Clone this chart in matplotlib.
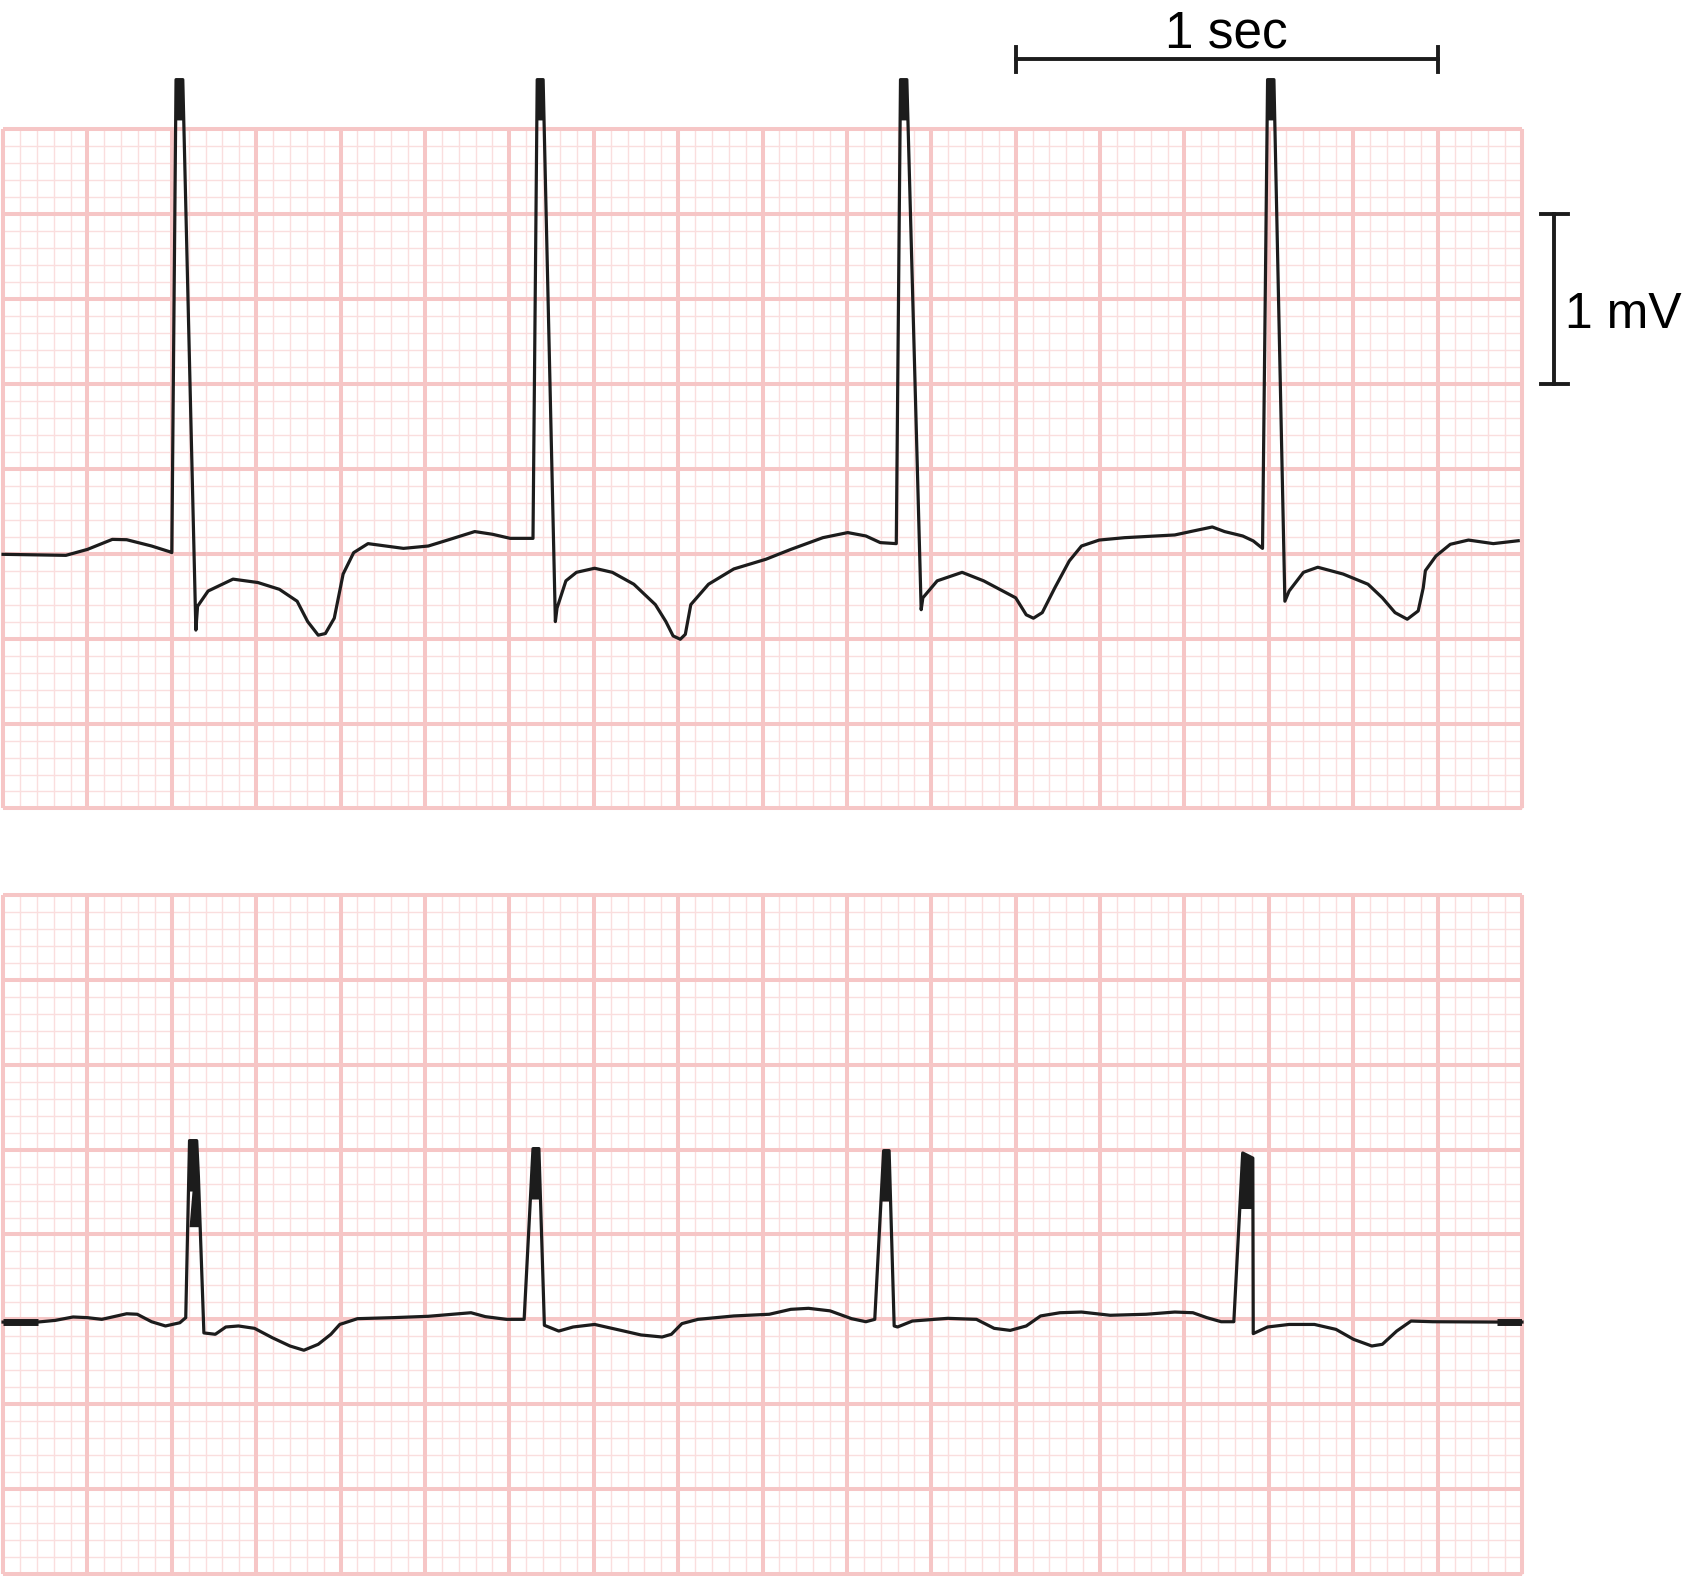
import numpy as np
import matplotlib.pyplot as plt

plt.rcParams['font.family'] = ['Liberation Sans', 'DejaVu Sans']

# upper strip: time (s) and amplitude (mV, measured from the bottom of the grid)
top_t = [0.000, 0.149, 0.200, 0.259, 0.293, 0.352, 0.394, 0.400, 0.410, 0.426,
         0.457, 0.461, 0.486, 0.545, 0.604, 0.655, 0.697, 0.722, 0.747, 0.764,
         0.785, 0.806, 0.831, 0.865, 0.907, 0.949, 1.008, 1.059, 1.118, 1.160,
         1.202, 1.256, 1.266, 1.280, 1.309, 1.313, 1.334, 1.359, 1.402, 1.444,
         1.495, 1.546, 1.571, 1.588, 1.605, 1.617, 1.630, 1.672, 1.732, 1.808,
         1.867, 1.943, 2.002, 2.045, 2.079, 2.117, 2.127, 2.142, 2.176, 2.180,
         2.214, 2.273, 2.324, 2.400, 2.425, 2.442, 2.463, 2.493, 2.527, 2.556,
         2.598, 2.658, 2.777, 2.820, 2.866, 2.895, 2.938, 2.963, 2.985, 2.997,
         3.012, 3.038, 3.048, 3.082, 3.116, 3.176, 3.235, 3.269, 3.299, 3.328,
         3.354, 3.366, 3.371, 3.396, 3.430, 3.473, 3.532, 3.591]
top_mv = [1.496, 1.490, 1.525, 1.584, 1.582, 1.545, 1.512, 1.506, 4.290, 4.290,
          1.050, 1.190, 1.280, 1.350, 1.330, 1.290, 1.220, 1.100, 1.020, 1.030,
          1.120, 1.380, 1.506, 1.559, 1.545, 1.531, 1.545, 1.584, 1.630, 1.614,
          1.590, 1.590, 4.290, 4.290, 1.100, 1.180, 1.340, 1.390, 1.414, 1.390,
          1.320, 1.200, 1.100, 1.016, 0.996, 1.025, 1.200, 1.320, 1.410, 1.467,
          1.525, 1.594, 1.624, 1.604, 1.565, 1.559, 4.290, 4.290, 1.170, 1.240,
          1.340, 1.390, 1.340, 1.240, 1.140, 1.120, 1.153, 1.300, 1.457, 1.545,
          1.580, 1.594, 1.610, 1.633, 1.657, 1.630, 1.604, 1.575, 1.531, 4.290,
          4.290, 1.220, 1.280, 1.390, 1.420, 1.380, 1.320, 1.240, 1.153, 1.114,
          1.163, 1.300, 1.400, 1.486, 1.555, 1.580, 1.559, 1.576]

# lower strip
bot_t = [0.000, 0.082, 0.124, 0.166, 0.200, 0.234, 0.293, 0.318, 0.352, 0.385,
         0.419, 0.433, 0.442, 0.459, 0.463, 0.476, 0.503, 0.528, 0.558, 0.596,
         0.638, 0.680, 0.713, 0.747, 0.777, 0.798, 0.840, 0.924, 1.008, 1.109,
         1.143, 1.193, 1.235, 1.256, 1.270, 1.283, 1.317, 1.351, 1.402, 1.461,
         1.512, 1.562, 1.584, 1.609, 1.647, 1.732, 1.816, 1.867, 1.909, 1.960,
         2.011, 2.045, 2.066, 2.087, 2.100, 2.112, 2.120, 2.155, 2.239, 2.307,
         2.349, 2.387, 2.425, 2.459, 2.505, 2.556, 2.624, 2.709, 2.777, 2.820,
         2.853, 2.887, 2.917, 2.938, 2.962, 2.963, 2.997, 3.048, 3.108, 3.159,
         3.201, 3.244, 3.269, 3.303, 3.337, 3.388, 3.540, 3.600]
bot_mv = [1.484, 1.484, 1.494, 1.514, 1.510, 1.500, 1.533, 1.530, 1.486, 1.461,
          1.480, 1.510, 2.553, 2.553, 2.343, 1.420, 1.412, 1.455, 1.461, 1.447,
          1.392, 1.343, 1.318, 1.353, 1.412, 1.470, 1.504, 1.510, 1.518, 1.539,
          1.516, 1.500, 1.500, 2.506, 2.506, 1.465, 1.431, 1.455, 1.470, 1.437,
          1.408, 1.396, 1.412, 1.475, 1.500, 1.520, 1.530, 1.559, 1.565, 1.550,
          1.504, 1.486, 1.500, 2.494, 2.494, 1.461, 1.455, 1.490, 1.506, 1.500,
          1.447, 1.435, 1.461, 1.520, 1.539, 1.543, 1.524, 1.530, 1.543, 1.539,
          1.510, 1.486, 1.486, 2.480, 2.450, 1.416, 1.455, 1.470, 1.470, 1.441,
          1.382, 1.343, 1.353, 1.431, 1.490, 1.486, 1.484, 1.484]

sec_bar = [2.4, 3.4]      # 1 sec marker, s
mv_bar = [2.5, 3.5]       # 1 mV marker, mV

big_col = '#f6c6c6'
small_col = '#fadede'
ink = '#1c1c1c'
lw_trace = 2.3

fig = plt.figure(figsize=(16.9, 15.76), dpi=100)
ax1 = fig.add_axes([0.0018, 0.487, 0.8988, 0.4312])
ax2 = fig.add_axes([0.0018, 0.0013, 0.8988, 0.4308])


def paper(ax):
    ax.set_xlim(0, 3.6)
    ax.set_ylim(0, 4)
    ax.axis('off')
    xs = np.arange(0, 3.6001, 0.04)
    ys = np.arange(0, 4.0001, 0.1)
    ax.vlines(xs, 0, 4, color=small_col, lw=1.0, clip_on=False, zorder=1)
    ax.hlines(ys, 0, 3.6, color=small_col, lw=1.0, clip_on=False, zorder=1)
    ax.vlines(xs[::5], 0, 4, color=big_col, lw=2.9, clip_on=False, zorder=2)
    ax.hlines(ys[::5], 0, 3.6, color=big_col, lw=2.9, clip_on=False, zorder=2)


def trace(ax, t, v, depth):
    t = np.array(t)
    v = np.array(v)
    ax.plot(t, v, color=ink, lw=lw_trace, clip_on=False, zorder=5,
            solid_joinstyle='round')
    # the pen smears the top of each spike into a solid bar
    peak = v > 2.3
    idx = np.where(peak[:-1] & peak[1:])[0]
    for i in idx:
        lvl = min(v[i], v[i + 1]) - depth
        tu = np.interp(lvl, [v[i - 1], v[i]], [t[i - 1], t[i]])
        td = np.interp(lvl, [v[i + 2], v[i + 1]], [t[i + 2], t[i + 1]])
        ax.fill([tu, t[i], t[i + 1], td], [lvl, v[i], v[i + 1], lvl],
                color=ink, lw=0, clip_on=False, zorder=5)
    return t, v


paper(ax1)
paper(ax2)

trace(ax1, top_t, top_mv, 0.24)
bt, bv = trace(ax2, bot_t, bot_mv, 0.3)
for m in (bt <= 0.082, bt >= 3.54):
    ax2.plot(bt[m], bv[m], color=ink, lw=5, solid_capstyle='butt', zorder=6)

# 1 sec marker
y0 = 4.41
ax1.plot(sec_bar, [y0, y0], color=ink, lw=2.8, clip_on=False)
for x in sec_bar:
    ax1.plot([x, x], [y0 - 0.075, y0 + 0.075], color=ink, lw=2.8, clip_on=False)
ax1.text(np.mean(sec_bar), 4.48, '1 sec', ha='center', va='baseline',
         fontsize=37, color='black', clip_on=False)

# 1 mV marker
x0 = 3.676
ax1.plot([x0, x0], mv_bar, color=ink, lw=2.8, clip_on=False)
for y in mv_bar:
    ax1.plot([x0 - 0.03, x0 + 0.033], [y, y], color=ink, lw=2.8, clip_on=False)
ax1.text(3.702, 2.828, '1 mV', ha='left', va='baseline',
         fontsize=36, color='black', clip_on=False)

fig.savefig('out.png', dpi=100, facecolor='white')
